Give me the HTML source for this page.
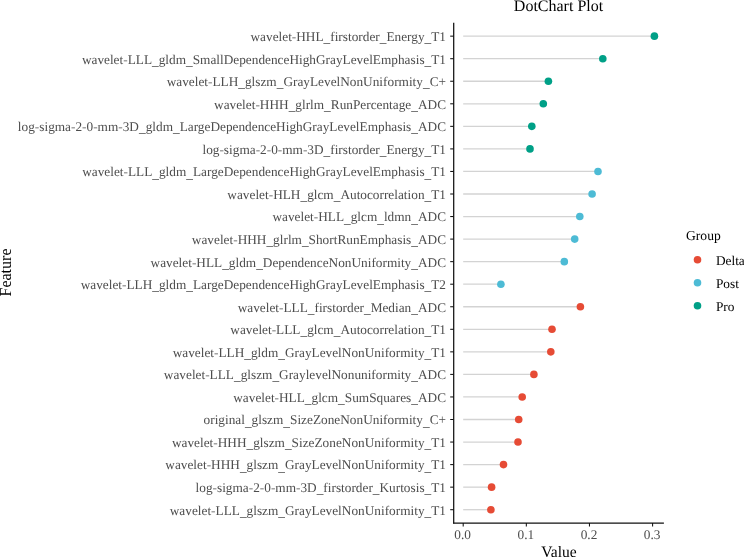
<!DOCTYPE html>
<html lang="en"><head><meta charset="utf-8"><title>DotChart Plot</title>
<style>
html,body{margin:0;padding:0;background:#fff;}
body{width:744px;height:557px;overflow:hidden;}
svg{display:block;font-family:"Liberation Serif","Times New Roman",serif;}
.yl{font-size:13.31px;fill:#4d4d4d;text-anchor:end;}
.xl{font-size:13.33px;fill:#4d4d4d;text-anchor:middle;}
.ttl{font-size:16px;fill:#000;}
.leg{font-size:13.33px;fill:#000;}
</style></head><body>
<svg width="744" height="557" viewBox="0 0 744 557">
<rect x="0" y="0" width="744" height="557" fill="#ffffff"/>

<g stroke="#d3d3d3" stroke-width="1.3" stroke-linecap="butt">
<line x1="463.2" y1="36.15" x2="654.4" y2="36.15"/>
<line x1="463.2" y1="58.70" x2="602.8" y2="58.70"/>
<line x1="463.2" y1="81.25" x2="548.4" y2="81.25"/>
<line x1="463.2" y1="103.80" x2="543.3" y2="103.80"/>
<line x1="463.2" y1="126.35" x2="531.8" y2="126.35"/>
<line x1="463.2" y1="148.90" x2="530.0" y2="148.90"/>
<line x1="463.2" y1="171.45" x2="598.0" y2="171.45"/>
<line x1="463.2" y1="194.00" x2="592.1" y2="194.00"/>
<line x1="463.2" y1="216.55" x2="579.8" y2="216.55"/>
<line x1="463.2" y1="239.10" x2="574.7" y2="239.10"/>
<line x1="463.2" y1="261.65" x2="564.3" y2="261.65"/>
<line x1="463.2" y1="284.20" x2="500.9" y2="284.20"/>
<line x1="463.2" y1="306.75" x2="580.4" y2="306.75"/>
<line x1="463.2" y1="329.30" x2="552.0" y2="329.30"/>
<line x1="463.2" y1="351.85" x2="550.8" y2="351.85"/>
<line x1="463.2" y1="374.40" x2="533.9" y2="374.40"/>
<line x1="463.2" y1="396.95" x2="522.2" y2="396.95"/>
<line x1="463.2" y1="419.50" x2="518.7" y2="419.50"/>
<line x1="463.2" y1="442.05" x2="518.0" y2="442.05"/>
<line x1="463.2" y1="464.60" x2="503.5" y2="464.60"/>
<line x1="463.2" y1="487.15" x2="491.6" y2="487.15"/>
<line x1="463.2" y1="509.70" x2="490.9" y2="509.70"/>
</g>
<circle cx="654.4" cy="36.15" r="3.8" fill="#00A087"/>
<circle cx="602.8" cy="58.70" r="3.8" fill="#00A087"/>
<circle cx="548.4" cy="81.25" r="3.8" fill="#00A087"/>
<circle cx="543.3" cy="103.80" r="3.8" fill="#00A087"/>
<circle cx="531.8" cy="126.35" r="3.8" fill="#00A087"/>
<circle cx="530.0" cy="148.90" r="3.8" fill="#00A087"/>
<circle cx="598.0" cy="171.45" r="3.8" fill="#4DBBD5"/>
<circle cx="592.1" cy="194.00" r="3.8" fill="#4DBBD5"/>
<circle cx="579.8" cy="216.55" r="3.8" fill="#4DBBD5"/>
<circle cx="574.7" cy="239.10" r="3.8" fill="#4DBBD5"/>
<circle cx="564.3" cy="261.65" r="3.8" fill="#4DBBD5"/>
<circle cx="500.9" cy="284.20" r="3.8" fill="#4DBBD5"/>
<circle cx="580.4" cy="306.75" r="3.8" fill="#E64B35"/>
<circle cx="552.0" cy="329.30" r="3.8" fill="#E64B35"/>
<circle cx="550.8" cy="351.85" r="3.8" fill="#E64B35"/>
<circle cx="533.9" cy="374.40" r="3.8" fill="#E64B35"/>
<circle cx="522.2" cy="396.95" r="3.8" fill="#E64B35"/>
<circle cx="518.7" cy="419.50" r="3.8" fill="#E64B35"/>
<circle cx="518.0" cy="442.05" r="3.8" fill="#E64B35"/>
<circle cx="503.5" cy="464.60" r="3.8" fill="#E64B35"/>
<circle cx="491.6" cy="487.15" r="3.8" fill="#E64B35"/>
<circle cx="490.9" cy="509.70" r="3.8" fill="#E64B35"/>
<g stroke="#111" stroke-width="1.25" fill="none" stroke-linecap="butt">
<line x1="453.70" y1="22.8" x2="453.70" y2="523.62"/>
<line x1="453.07" y1="523.00" x2="663.9" y2="523.00"/>
<line x1="450.2" y1="36.15" x2="453.70" y2="36.15" stroke-width="1.05"/>
<line x1="450.2" y1="58.70" x2="453.70" y2="58.70" stroke-width="1.05"/>
<line x1="450.2" y1="81.25" x2="453.70" y2="81.25" stroke-width="1.05"/>
<line x1="450.2" y1="103.80" x2="453.70" y2="103.80" stroke-width="1.05"/>
<line x1="450.2" y1="126.35" x2="453.70" y2="126.35" stroke-width="1.05"/>
<line x1="450.2" y1="148.90" x2="453.70" y2="148.90" stroke-width="1.05"/>
<line x1="450.2" y1="171.45" x2="453.70" y2="171.45" stroke-width="1.05"/>
<line x1="450.2" y1="194.00" x2="453.70" y2="194.00" stroke-width="1.05"/>
<line x1="450.2" y1="216.55" x2="453.70" y2="216.55" stroke-width="1.05"/>
<line x1="450.2" y1="239.10" x2="453.70" y2="239.10" stroke-width="1.05"/>
<line x1="450.2" y1="261.65" x2="453.70" y2="261.65" stroke-width="1.05"/>
<line x1="450.2" y1="284.20" x2="453.70" y2="284.20" stroke-width="1.05"/>
<line x1="450.2" y1="306.75" x2="453.70" y2="306.75" stroke-width="1.05"/>
<line x1="450.2" y1="329.30" x2="453.70" y2="329.30" stroke-width="1.05"/>
<line x1="450.2" y1="351.85" x2="453.70" y2="351.85" stroke-width="1.05"/>
<line x1="450.2" y1="374.40" x2="453.70" y2="374.40" stroke-width="1.05"/>
<line x1="450.2" y1="396.95" x2="453.70" y2="396.95" stroke-width="1.05"/>
<line x1="450.2" y1="419.50" x2="453.70" y2="419.50" stroke-width="1.05"/>
<line x1="450.2" y1="442.05" x2="453.70" y2="442.05" stroke-width="1.05"/>
<line x1="450.2" y1="464.60" x2="453.70" y2="464.60" stroke-width="1.05"/>
<line x1="450.2" y1="487.15" x2="453.70" y2="487.15" stroke-width="1.05"/>
<line x1="450.2" y1="509.70" x2="453.70" y2="509.70" stroke-width="1.05"/>
<line x1="463.20" y1="523.00" x2="463.20" y2="526.4" stroke-width="1.05"/>
<line x1="526.33" y1="523.00" x2="526.33" y2="526.4" stroke-width="1.05"/>
<line x1="589.46" y1="523.00" x2="589.46" y2="526.4" stroke-width="1.05"/>
<line x1="652.59" y1="523.00" x2="652.59" y2="526.4" stroke-width="1.05"/>
</g>
<text class="yl" transform="translate(446.0,41.00) skewX(0.05)">wavelet-HHL<tspan dy="1.2">_</tspan><tspan dy="-1.2">firstorder</tspan><tspan dy="1.2">_</tspan><tspan dy="-1.2">Energy</tspan><tspan dy="1.2">_</tspan><tspan dy="-1.2">T1</tspan></text>
<text class="yl" transform="translate(446.0,63.55) skewX(0.05)">wavelet-LLL<tspan dy="1.2">_</tspan><tspan dy="-1.2">gldm</tspan><tspan dy="1.2">_</tspan><tspan dy="-1.2">SmallDependenceHighGrayLevelEmphasis</tspan><tspan dy="1.2">_</tspan><tspan dy="-1.2">T1</tspan></text>
<text class="yl" transform="translate(446.0,86.10) skewX(0.05)">wavelet-LLH<tspan dy="1.2">_</tspan><tspan dy="-1.2">glszm</tspan><tspan dy="1.2">_</tspan><tspan dy="-1.2">GrayLevelNonUniformity</tspan><tspan dy="1.2">_</tspan><tspan dy="-1.2">C+</tspan></text>
<text class="yl" transform="translate(446.0,108.65) skewX(0.05)">wavelet-HHH<tspan dy="1.2">_</tspan><tspan dy="-1.2">glrlm</tspan><tspan dy="1.2">_</tspan><tspan dy="-1.2">RunPercentage</tspan><tspan dy="1.2">_</tspan><tspan dy="-1.2">ADC</tspan></text>
<text class="yl" transform="translate(446.0,131.20) skewX(0.05)">log-sigma-2-0-mm-3D<tspan dy="1.2">_</tspan><tspan dy="-1.2">gldm</tspan><tspan dy="1.2">_</tspan><tspan dy="-1.2">LargeDependenceHighGrayLevelEmphasis</tspan><tspan dy="1.2">_</tspan><tspan dy="-1.2">ADC</tspan></text>
<text class="yl" transform="translate(446.0,153.75) skewX(0.05)">log-sigma-2-0-mm-3D<tspan dy="1.2">_</tspan><tspan dy="-1.2">firstorder</tspan><tspan dy="1.2">_</tspan><tspan dy="-1.2">Energy</tspan><tspan dy="1.2">_</tspan><tspan dy="-1.2">T1</tspan></text>
<text class="yl" transform="translate(446.0,176.30) skewX(0.05)">wavelet-LLL<tspan dy="1.2">_</tspan><tspan dy="-1.2">gldm</tspan><tspan dy="1.2">_</tspan><tspan dy="-1.2">LargeDependenceHighGrayLevelEmphasis</tspan><tspan dy="1.2">_</tspan><tspan dy="-1.2">T1</tspan></text>
<text class="yl" transform="translate(446.0,198.85) skewX(0.05)">wavelet-HLH<tspan dy="1.2">_</tspan><tspan dy="-1.2">glcm</tspan><tspan dy="1.2">_</tspan><tspan dy="-1.2">Autocorrelation</tspan><tspan dy="1.2">_</tspan><tspan dy="-1.2">T1</tspan></text>
<text class="yl" transform="translate(446.0,221.40) skewX(0.05)">wavelet-HLL<tspan dy="1.2">_</tspan><tspan dy="-1.2">glcm</tspan><tspan dy="1.2">_</tspan><tspan dy="-1.2">ldmn</tspan><tspan dy="1.2">_</tspan><tspan dy="-1.2">ADC</tspan></text>
<text class="yl" transform="translate(446.0,243.95) skewX(0.05)">wavelet-HHH<tspan dy="1.2">_</tspan><tspan dy="-1.2">glrlm</tspan><tspan dy="1.2">_</tspan><tspan dy="-1.2">ShortRunEmphasis</tspan><tspan dy="1.2">_</tspan><tspan dy="-1.2">ADC</tspan></text>
<text class="yl" transform="translate(446.0,266.50) skewX(0.05)">wavelet-HLL<tspan dy="1.2">_</tspan><tspan dy="-1.2">gldm</tspan><tspan dy="1.2">_</tspan><tspan dy="-1.2">DependenceNonUniformity</tspan><tspan dy="1.2">_</tspan><tspan dy="-1.2">ADC</tspan></text>
<text class="yl" transform="translate(446.0,289.05) skewX(0.05)">wavelet-LLH<tspan dy="1.2">_</tspan><tspan dy="-1.2">gldm</tspan><tspan dy="1.2">_</tspan><tspan dy="-1.2">LargeDependenceHighGrayLevelEmphasis</tspan><tspan dy="1.2">_</tspan><tspan dy="-1.2">T2</tspan></text>
<text class="yl" transform="translate(446.0,311.60) skewX(0.05)">wavelet-LLL<tspan dy="1.2">_</tspan><tspan dy="-1.2">firstorder</tspan><tspan dy="1.2">_</tspan><tspan dy="-1.2">Median</tspan><tspan dy="1.2">_</tspan><tspan dy="-1.2">ADC</tspan></text>
<text class="yl" transform="translate(446.0,334.15) skewX(0.05)">wavelet-LLL<tspan dy="1.2">_</tspan><tspan dy="-1.2">glcm</tspan><tspan dy="1.2">_</tspan><tspan dy="-1.2">Autocorrelation</tspan><tspan dy="1.2">_</tspan><tspan dy="-1.2">T1</tspan></text>
<text class="yl" transform="translate(446.0,356.70) skewX(0.05)">wavelet-LLH<tspan dy="1.2">_</tspan><tspan dy="-1.2">gldm</tspan><tspan dy="1.2">_</tspan><tspan dy="-1.2">GrayLevelNonUniformity</tspan><tspan dy="1.2">_</tspan><tspan dy="-1.2">T1</tspan></text>
<text class="yl" transform="translate(446.0,379.25) skewX(0.05)">wavelet-LLL<tspan dy="1.2">_</tspan><tspan dy="-1.2">glszm</tspan><tspan dy="1.2">_</tspan><tspan dy="-1.2">GraylevelNonuniformity</tspan><tspan dy="1.2">_</tspan><tspan dy="-1.2">ADC</tspan></text>
<text class="yl" transform="translate(446.0,401.80) skewX(0.05)">wavelet-HLL<tspan dy="1.2">_</tspan><tspan dy="-1.2">glcm</tspan><tspan dy="1.2">_</tspan><tspan dy="-1.2">SumSquares</tspan><tspan dy="1.2">_</tspan><tspan dy="-1.2">ADC</tspan></text>
<text class="yl" transform="translate(446.0,424.35) skewX(0.05)">original<tspan dy="1.2">_</tspan><tspan dy="-1.2">glszm</tspan><tspan dy="1.2">_</tspan><tspan dy="-1.2">SizeZoneNonUniformity</tspan><tspan dy="1.2">_</tspan><tspan dy="-1.2">C+</tspan></text>
<text class="yl" transform="translate(446.0,446.90) skewX(0.05)">wavelet-HHH<tspan dy="1.2">_</tspan><tspan dy="-1.2">glszm</tspan><tspan dy="1.2">_</tspan><tspan dy="-1.2">SizeZoneNonUniformity</tspan><tspan dy="1.2">_</tspan><tspan dy="-1.2">T1</tspan></text>
<text class="yl" transform="translate(446.0,469.45) skewX(0.05)">wavelet-HHH<tspan dy="1.2">_</tspan><tspan dy="-1.2">glszm</tspan><tspan dy="1.2">_</tspan><tspan dy="-1.2">GrayLevelNonUniformity</tspan><tspan dy="1.2">_</tspan><tspan dy="-1.2">T1</tspan></text>
<text class="yl" transform="translate(446.0,492.00) skewX(0.05)">log-sigma-2-0-mm-3D<tspan dy="1.2">_</tspan><tspan dy="-1.2">firstorder</tspan><tspan dy="1.2">_</tspan><tspan dy="-1.2">Kurtosis</tspan><tspan dy="1.2">_</tspan><tspan dy="-1.2">T1</tspan></text>
<text class="yl" transform="translate(446.0,514.55) skewX(0.05)">wavelet-LLL<tspan dy="1.2">_</tspan><tspan dy="-1.2">glszm</tspan><tspan dy="1.2">_</tspan><tspan dy="-1.2">GrayLevelNonUniformity</tspan><tspan dy="1.2">_</tspan><tspan dy="-1.2">T1</tspan></text>
<text class="xl" transform="translate(462.70,539.1) skewX(0.05)">0.0</text>
<text class="xl" transform="translate(525.83,539.1) skewX(0.05)">0.1</text>
<text class="xl" transform="translate(588.96,539.1) skewX(0.05)">0.2</text>
<text class="xl" transform="translate(652.09,539.1) skewX(0.05)">0.3</text>
<text class="ttl" transform="translate(558.5,10.8) skewX(0.05)" text-anchor="middle">DotChart Plot</text>
<text class="ttl" transform="translate(559.0,557.2) scale(0.972,1) skewX(0.05)" text-anchor="middle">Value</text>
<text class="ttl" transform="translate(10.5,272.5) rotate(-90)" text-anchor="middle">Feature</text>
<text class="leg" transform="translate(686.0,239.6) skewX(0.05)" style="font-size:13.6px">Group</text>
<circle cx="697.5" cy="259.70" r="3.8" fill="#E64B35"/>
<text class="leg" transform="translate(715.9,264.50) skewX(0.05)">Delta</text>
<circle cx="697.5" cy="282.75" r="3.8" fill="#4DBBD5"/>
<text class="leg" transform="translate(715.9,287.55) skewX(0.05)">Post</text>
<circle cx="697.5" cy="305.80" r="3.8" fill="#00A087"/>
<text class="leg" transform="translate(715.9,310.60) skewX(0.05)">Pro</text>
</svg></body></html>
